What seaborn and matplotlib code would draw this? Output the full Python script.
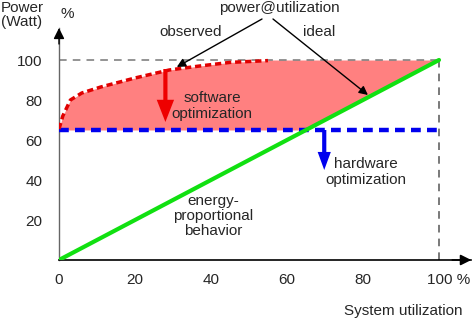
import numpy as np
import pandas as pd
import matplotlib
matplotlib.use("Agg")
import matplotlib.pyplot as plt
import matplotlib.transforms as mtrans
import seaborn as sns

# ---- data ----
obs_util = [0, 1, 3, 6, 11, 20, 29, 37, 45, 55]
obs_power = [65.5, 72, 80, 83.5, 86.5, 91, 95, 97, 98.8, 99.7]
ideal_util = [0, 100]
ideal_power = [0, 100]
hw_util = [0, 100]
hw_power = [65, 65]
peak_power = 100
xticks = [0, 20, 40, 60, 80, 100]
xtick_labels = ["0", "20", "40", "60", "80", "100 %"]
yticks = [20, 40, 60, 80, 100]
ytick_labels = ["20", "40", "60", "80", "100"]

sns.set_style("white")
plt.rcParams["font.family"] = ["Liberation Sans", "DejaVu Sans"]
FS = 11
plt.rcParams["font.size"] = FS

fig = plt.figure(figsize=(4.74, 3.21), dpi=100)
W, H = 474, 321
x0px, y0px = 59, 260
sx, sy = 3.8, 2.0
xmax, ymax = 108.5, 116
ax = fig.add_axes([x0px / W, (H - y0px) / H, xmax * sx / W, ymax * sy / H])
ax.set_xlim(0, xmax)
ax.set_ylim(0, ymax)

# fill region between observed power and max(hardware floor, ideal)
grid = np.linspace(0, 100, 401)
top = np.interp(grid, obs_util, obs_power, right=peak_power)
bottom = np.maximum(np.interp(grid, hw_util, hw_power), np.interp(grid, ideal_util, ideal_power))
ax.fill_between(grid, bottom, top, color="#ff8080", lw=0, zorder=1)

# gray reference lines
ax.plot([0, 100], [peak_power, peak_power], color="#777777", lw=1.1, ls=(0, (5, 4)), zorder=2)
ax.plot([100, 100], [0, peak_power], color="#555555", lw=1.1, ls=(0, (5, 4)), zorder=2)

df_obs = pd.DataFrame({"u": obs_util, "p": obs_power})
df_ideal = pd.DataFrame({"u": ideal_util, "p": ideal_power})
df_hw = pd.DataFrame({"u": hw_util, "p": hw_power})
sns.lineplot(data=df_hw, x="u", y="p", ax=ax, color="#0000ee", lw=3.2,
             linestyle=(0, (2.2, 1.4)), zorder=3)
sns.lineplot(data=df_obs, x="u", y="p", ax=ax, color="#e00000", lw=2.5,
             linestyle=(0, (1.8, 1.1)), zorder=4)
sns.lineplot(data=df_ideal, x="u", y="p", ax=ax, color="#11e011", lw=3.0, zorder=5)

# optimization arrows
ax.annotate("", xy=(28, 69), xytext=(28, 95.5),
            arrowprops=dict(arrowstyle="simple,head_width=1.25,head_length=1.6,tail_width=0.3",
                            color="#ee0000", lw=0, mutation_scale=10,
                            shrinkA=0, shrinkB=0), zorder=6)
ax.annotate("", xy=(69.8, 45), xytext=(69.8, 65),
            arrowprops=dict(arrowstyle="simple,head_width=0.95,head_length=1.3,tail_width=0.3",
                            color="#0000ee", lw=0, mutation_scale=10,
                            shrinkA=0, shrinkB=0), zorder=6)

# axes styling
sns.despine(ax=ax)
ax.spines["left"].set_color("#666666")
ax.spines["left"].set_linewidth(1.0)
ax.spines["bottom"].set_color("black")
ax.spines["bottom"].set_linewidth(1.2)
ax.set_xticks(xticks)
ax.set_xticklabels(xtick_labels)
ax.set_yticks(yticks)
ax.set_yticklabels(ytick_labels)
ax.tick_params(axis="x", direction="in", length=9, width=1.0, color="black", pad=9, labelsize=FS)
ax.tick_params(axis="y", direction="out", length=8, width=1.0, color="#777777", pad=4, labelsize=FS)
ax.set_xlabel("")
ax.set_ylabel("")
lab = ax.get_xticklabels()[-1]
lab.set_horizontalalignment("left")
lab.set_transform(lab.get_transform() + mtrans.ScaledTranslation(-12 / 100, 0, fig.dpi_scale_trans))

# axis arrow heads
ax.annotate("", xy=(0, ymax), xytext=(0, ymax - 8), annotation_clip=False,
            arrowprops=dict(arrowstyle="-|>", color="black", lw=1.0, mutation_scale=16,
                            shrinkA=0, shrinkB=0))
ax.annotate("", xy=(xmax, 0), xytext=(xmax - 5, 0), annotation_clip=False,
            arrowprops=dict(arrowstyle="-|>", color="black", lw=1.2, mutation_scale=16,
                            shrinkA=0, shrinkB=0))

# texts
fig.text(22 / W, 1 - 15 / H, "Power\n(Watt)", ha="center", va="center", fontsize=FS, linespacing=1.05)
fig.text(67 / W, 1 - 14 / H, "%", ha="center", va="center", fontsize=FS)
fig.text(279 / W, 1 - 8 / H, "power@utilization", ha="center", va="center", fontsize=FS)
fig.text(191 / W, 1 - 32 / H, "observed", ha="center", va="center", fontsize=FS)
fig.text(319 / W, 1 - 32 / H, "ideal", ha="center", va="center", fontsize=FS)
fig.text(403 / W, 1 - 311 / H, "System utilization", ha="center", va="center", fontsize=FS)

ax.annotate("", xy=(31, 96.5), xytext=(262, H - 19), textcoords="figure pixels",
            arrowprops=dict(arrowstyle="-|>", color="black", lw=1.0, mutation_scale=13,
                            shrinkA=0, shrinkB=0), annotation_clip=False, zorder=7)
ax.annotate("", xy=(81.3, 82.5), xytext=(273, H - 19), textcoords="figure pixels",
            arrowprops=dict(arrowstyle="-|>", color="black", lw=1.0, mutation_scale=13,
                            shrinkA=0, shrinkB=0), annotation_clip=False, zorder=7)

ax.text(40.3, 77, "software\noptimization", ha="center", va="center", fontsize=FS,
        linespacing=1.1, zorder=8)
ax.text(80.8, 44, "hardware\noptimization", ha="center", va="center", fontsize=FS,
        linespacing=1.1, zorder=8)
ax.text(40.5, 22, "energy-\nproportional\nbehavior", ha="center", va="center", fontsize=FS,
        linespacing=1.1, zorder=8)

fig.savefig("out.png", dpi=100)
